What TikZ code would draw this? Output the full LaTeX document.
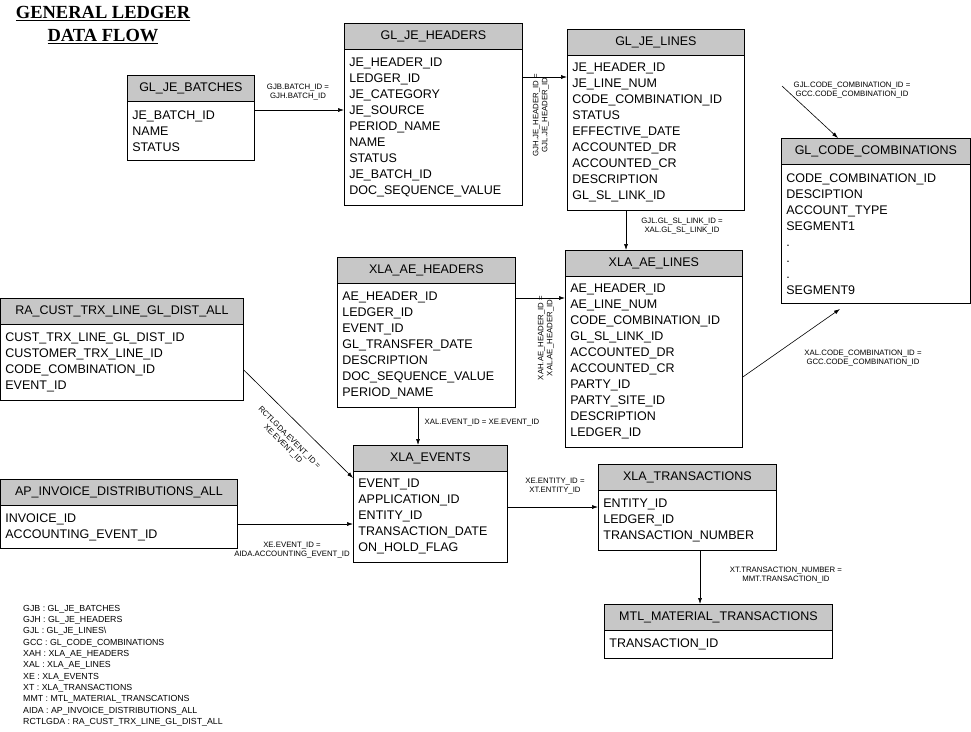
\documentclass[tikz,border=0pt]{standalone}
\usepackage{fontspec}
\setmainfont{Liberation Sans}
\newfontfamily\titlefont{Liberation Serif}
\usetikzlibrary{arrows.meta}
\begin{document}
\begin{tikzpicture}[x=1pt,y=-1pt,
  hdr/.style={draw=black,line width=0.8pt,fill=black!22,inner sep=0pt,minimum height=26pt,anchor=north west,font=\fontsize{12.5}{16}\selectfont},
  bdy/.style={draw=black,line width=0.8pt,fill=white,inner xsep=5pt,inner ysep=0pt,anchor=north west,align=left,font=\fontsize{12.5}{16}\selectfont},
  arr/.style={-{Latex[length=6pt,width=4pt]},line width=0.6pt},
  lbl/.style={font=\fontsize{7.8}{9}\selectfont,align=center,inner sep=0pt},
  leg/.style={font=\fontsize{8.8}{11.3}\selectfont,align=left,anchor=north west,inner sep=0pt}]
\useasboundingbox (0,0) rectangle (971,731);
\fill[white] (0,0) rectangle (971,731);
\newcommand{\tbl}[7]{%
  \node[hdr,minimum width=#4pt] (h#1) at (#2,#3) {#6};
  \node[bdy,minimum width=#4pt,text width=#4pt-10pt,minimum height=#5pt] (#1) at (#2,#3+26) {#7};}
\tbl{bat}{127}{75}{127}{59}{GL\_JE\_BATCHES}{JE\_BATCH\_ID\\NAME\\STATUS}
\tbl{hea}{344}{23}{178}{156}{GL\_JE\_HEADERS}{JE\_HEADER\_ID\\LEDGER\_ID\\JE\_CATEGORY\\JE\_SOURCE\\PERIOD\_NAME\\NAME\\STATUS\\JE\_BATCH\_ID\\DOC\_SEQUENCE\_VALUE}
\tbl{lin}{567}{29}{177}{155}{GL\_JE\_LINES}{JE\_HEADER\_ID\\JE\_LINE\_NUM\\CODE\_COMBINATION\_ID\\STATUS\\EFFECTIVE\_DATE\\ACCOUNTED\_DR\\ACCOUNTED\_CR\\DESCRIPTION\\GL\_SL\_LINK\_ID}
\tbl{gcc}{781}{138}{189}{139}{GL\_CODE\_COMBINATIONS}{CODE\_COMBINATION\_ID\\DESCIPTION\\ACCOUNT\_TYPE\\SEGMENT1\\.\\.\\.\\SEGMENT9}
\tbl{aeh}{337}{257}{178}{124}{XLA\_AE\_HEADERS}{AE\_HEADER\_ID\\LEDGER\_ID\\EVENT\_ID\\GL\_TRANSFER\_DATE\\DESCRIPTION\\DOC\_SEQUENCE\_VALUE\\PERIOD\_NAME}
\tbl{ael}{565}{250}{177}{171}{XLA\_AE\_LINES}{AE\_HEADER\_ID\\AE\_LINE\_NUM\\CODE\_COMBINATION\_ID\\GL\_SL\_LINK\_ID\\ACCOUNTED\_DR\\ACCOUNTED\_CR\\PARTY\_ID\\PARTY\_SITE\_ID\\DESCRIPTION\\LEDGER\_ID}
\tbl{ra}{0}{298}{243}{76}{RA\_CUST\_TRX\_LINE\_GL\_DIST\_ALL}{CUST\_TRX\_LINE\_GL\_DIST\_ID\\CUSTOMER\_TRX\_LINE\_ID\\CODE\_COMBINATION\_ID\\EVENT\_ID}
\tbl{ev}{353}{445}{154}{91}{XLA\_EVENTS}{EVENT\_ID\\APPLICATION\_ID\\ENTITY\_ID\\TRANSACTION\_DATE\\ON\_HOLD\_FLAG}
\tbl{ap}{0}{479}{237}{43}{AP\_INVOICE\_DISTRIBUTIONS\_ALL}{INVOICE\_ID\\ACCOUNTING\_EVENT\_ID}
\tbl{xt}{598}{464}{178}{60}{XLA\_TRANSACTIONS}{ENTITY\_ID\\LEDGER\_ID\\TRANSACTION\_NUMBER}
\tbl{mtl}{604}{604}{228}{28}{MTL\_MATERIAL\_TRANSACTIONS}{TRANSACTION\_ID}
\node[font=\titlefont\bfseries\fontsize{18.5}{23}\selectfont,align=center,inner sep=0pt] (title) at (103,25) {\underline{GENERAL LEDGER}\\\underline{DATA FLOW}};
\draw[arr] (bat.east |- 0,110) -- (hea.west |- 0,110);
\node[lbl] (l1) at (298,92) {GJB.BATCH\_ID =\\GJH.BATCH\_ID};
\draw[arr] (hea.east |- 0,77) -- (lin.west |- 0,77);
\node[lbl,rotate=90] (l2) at (541,115) {GJH.JE\_HEADER\_ID =\\GJL.JE\_HEADER\_ID};
\coordinate (c1) at (782,86);
\draw[arr] (c1) -- (hgcc.north west -| 838,0);
\node[lbl] (l3) at (852,90) {GJL.CODE\_COMBINATION\_ID =\\GCC.CODE\_COMBINATION\_ID};
\draw[arr] (lin.south -| 626,0) -- (hael.north -| 626,0);
\node[lbl] (l4) at (682,226) {GJL.GL\_SL\_LINK\_ID =\\XAL.GL\_SL\_LINK\_ID};
\draw[arr] (aeh.east |- 0,298) -- (ael.west |- 0,298);
\node[lbl,rotate=90] (l5) at (546,338) {XAH.AE\_HEADER\_ID =\\XAL.AE\_HEADER\_ID};
\coordinate (c2) at (840,309);
\draw[arr] (ael.east |- 0,377) -- (c2);
\node[lbl] (l6) at (863,358) {XAL.CODE\_COMBINATION\_ID =\\GCC.CODE\_COMBINATION\_ID};
\draw[arr] (ra.south east |- 0,370) -- (hev.north west |- 0,478);
\node[lbl,rotate=-45] (l7) at (286,441) {RCTLGDA.EVENT\_ID =\\XE.EVENT\_ID};
\draw[arr] (aeh.south -| 418,0) -- (hev.north -| 418,0);
\node[lbl] (l8) at (482,423) {XAL.EVENT\_ID = XE.EVENT\_ID};
\draw[arr] (ap.east |- 0,524) -- (ev.west |- 0,524);
\node[lbl] (l9) at (292,550) {XE.EVENT\_ID =\\AIDA.ACCOUNTING\_EVENT\_ID};
\draw[arr] (ev.east |- 0,507) -- (xt.west |- 0,507);
\node[lbl] (l10) at (555,486) {XE.ENTITY\_ID =\\XT.ENTITY\_ID};
\draw[arr] (xt.south -| 700,0) -- (hmtl.north -| 700,0);
\node[lbl] (l11) at (786,575) {XT.TRANSACTION\_NUMBER =\\MMT.TRANSACTION\_ID};
\node[leg] (legend) at (23,605) {GJB : GL\_JE\_BATCHES\\GJH : GL\_JE\_HEADERS\\GJL : GL\_JE\_LINES\textbackslash\\GCC : GL\_CODE\_COMBINATIONS\\XAH : XLA\_AE\_HEADERS\\XAL : XLA\_AE\_LINES\\XE : XLA\_EVENTS\\XT : XLA\_TRANSACTIONS\\MMT : MTL\_MATERIAL\_TRANSCATIONS\\AIDA : AP\_INVOICE\_DISTRIBUTIONS\_ALL\\RCTLGDA : RA\_CUST\_TRX\_LINE\_GL\_DIST\_ALL};
\end{tikzpicture}
\end{document}
